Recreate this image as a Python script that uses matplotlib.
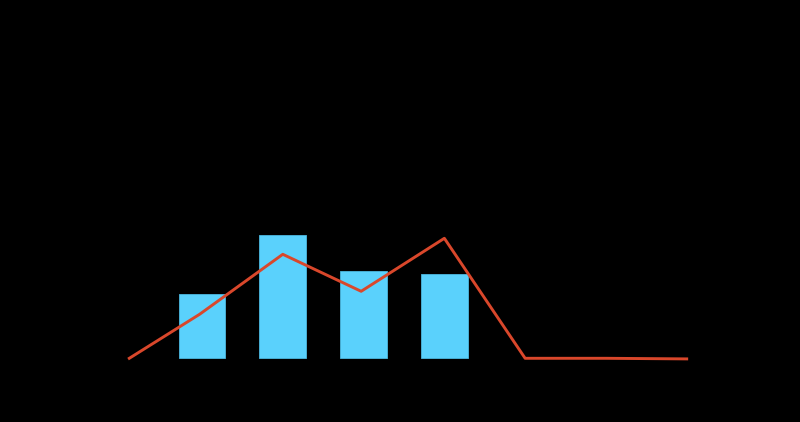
import numpy as np
import matplotlib
matplotlib.use("Agg")
import matplotlib.pyplot as plt

# values (arbitrary units)
bar_x = [0, 1, 2, 3]
bar_values = [32, 61.5, 43.5, 42]
line_x = [-0.9, -0.03, 1, 1.97, 3, 4, 5, 6]
line_values = [0, 22, 52, 33.5, 60, 0, 0, -0.3]

fig = plt.figure(figsize=(8, 4.22), dpi=100, facecolor="black")
ax = fig.add_axes([129.3 / 800, (422 - 378.3) / 422, 557.4 / 800, 360 / 422])
ax.set_facecolor("black")

ax.bar(bar_x, bar_values, width=0.58, color="#5ad1fc", edgecolor="#4cb8e0", linewidth=0.6)
ax.plot(line_x, line_values, color="#d9472b", linewidth=2.1, clip_on=False)

ax.set_xlim(-0.9, 6)
ax.set_ylim(-10, 170)
ax.axis("off")

fig.savefig("out.png", dpi=100, facecolor="black")
